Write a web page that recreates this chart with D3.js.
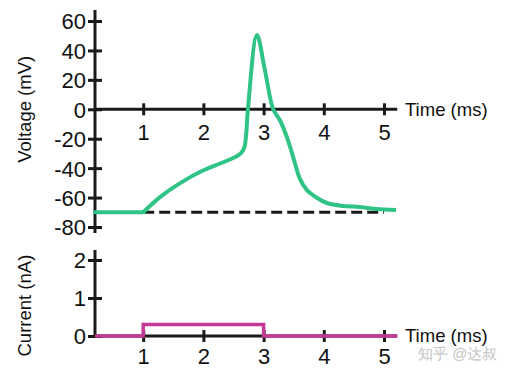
<!DOCTYPE html>
<html><head><meta charset="utf-8">
<script src="https://cdn.jsdelivr.net/npm/d3@7"></script>
<style>
html,body{margin:0;padding:0;background:#fff;}
text{font-family:"Liberation Sans",Arial,Helvetica,sans-serif;fill:#111;}
</style></head>
<body><svg id="c" width="512" height="380"></svg>
<script>
// ---- data ----
const timeTicks = [1, 2, 3, 4, 5];
const voltTicks = [60, 40, 20, 0, -20, -40, -60, -80];
const currTicks = [0, 1, 2];
const vTime = [0.2, 1.0, 1.3, 1.6, 1.95, 2.3, 2.5, 2.62, 2.68, 2.71, 2.74, 2.89, 3.02, 3.16, 3.27, 3.36, 3.44, 3.52, 3.60, 3.72, 3.89, 4.05, 4.32, 4.60, 4.88, 5.2];
const vVolt = [-70, -70, -59, -50.5, -42.5, -36.5, -33, -30, -26, -17, 0, 50.5, 27, 0, -7.3, -16, -25.6, -36.5, -47, -55, -60.3, -63.7, -65.7, -66.4, -67.8, -68.5];
const stimOn = 1;
const restTime = [1, 5];
const restVolt = [-70, -70];
const iTime = [0.2, 1, 1, 3, 3, 5.22];
const iCurr = [0, 0, 0.3, 0.3, 0, 0];
const xLabel = "Time (ms)";
const vLabel = "Voltage (mV)";
const iLabel = "Current (nA)";
const watermark = "知乎 @达叔";

const svg = d3.select("#c");
const x = d3.scaleLinear().domain([0, 5]).range([83, 384]);
const yV = d3.scaleLinear().domain([-80, 60]).range([227, 21]);
const yI = d3.scaleLinear().domain([0, 2]).range([336, 260]);
const axisColor = "#1a1a1a";
const green = "#2fc486";
const magenta = "#c43896";
const fmt = d => String(d);

function styleAxis(g, horiz) {
  g.select(".domain").remove();
  g.selectAll(".tick line").attr("stroke", axisColor).attr("stroke-width", 3);
  if (horiz) g.selectAll(".tick line").attr("y1", -6).attr("y2", 6);
  else g.selectAll(".tick line").attr("x1", -7).attr("x2", 7);
  g.selectAll(".tick text").attr("font-size", 22).attr("fill", "#111")
   .attr("font-family", '"Liberation Sans",Arial,sans-serif');
}

// ---------- top panel ----------
const gTop = svg.append("g");
gTop.append("line").attr("x1", 95).attr("x2", 95).attr("y1", 10).attr("y2", 233)
  .attr("stroke", axisColor).attr("stroke-width", 3);
gTop.append("line").attr("x1", 95).attr("x2", x(5.22)).attr("y1", yV(0)).attr("y2", yV(0))
  .attr("stroke", axisColor).attr("stroke-width", 3);
const yAxV = gTop.append("g").attr("transform", "translate(95,0)")
  .call(d3.axisLeft(yV).tickValues(voltTicks).tickSize(0).tickPadding(9).tickFormat(fmt));
styleAxis(yAxV, false);
yAxV.selectAll(".tick text").attr("dy", "0.36em");
const xAxV = gTop.append("g").attr("transform", `translate(0,${yV(0)})`)
  .call(d3.axisBottom(x).tickValues(timeTicks).tickSize(0).tickPadding(0).tickFormat(fmt));
styleAxis(xAxV, true);
xAxV.selectAll(".tick text").attr("y", 31).attr("dy", 0);
gTop.append("text").attr("x", 405).attr("y", yV(0)).attr("dy", "0.35em")
  .attr("font-size", 18.5).text(xLabel);
gTop.append("text").attr("transform", `translate(31,${yV(0)}) rotate(-90)`)
  .attr("text-anchor", "middle").attr("font-size", 18.5).text(vLabel);

gTop.append("path").datum(restTime.map((t, i) => [t, restVolt[i]]))
  .attr("d", d3.line().x(d => x(d[0])).y(d => yV(d[1])))
  .attr("fill", "none").attr("stroke", "#1a1a1a").attr("stroke-width", 3)
  .attr("stroke-dasharray", "11,5");
const vPts = vTime.map((t, i) => [t, vVolt[i]]);
const lineV = d3.line().x(d => x(d[0])).y(d => yV(d[1]));
gTop.append("path").datum(vPts.filter(d => d[0] <= stimOn))
  .attr("d", lineV)
  .attr("fill", "none").attr("stroke", green).attr("stroke-width", 4)
  .attr("stroke-linecap", "round");
gTop.append("path").datum(vPts.filter(d => d[0] >= stimOn))
  .attr("d", lineV.curve(d3.curveCatmullRom.alpha(0.5)))
  .attr("fill", "none").attr("stroke", green).attr("stroke-width", 4)
  .attr("stroke-linejoin", "round").attr("stroke-linecap", "butt");

// ---------- bottom panel ----------
const gBot = svg.append("g");
gBot.append("line").attr("x1", 95).attr("x2", 95).attr("y1", 250).attr("y2", 338)
  .attr("stroke", axisColor).attr("stroke-width", 3);
gBot.append("line").attr("x1", 95).attr("x2", x(5.22)).attr("y1", yI(0)).attr("y2", yI(0))
  .attr("stroke", axisColor).attr("stroke-width", 3);
const yAxI = gBot.append("g").attr("transform", "translate(95,0)")
  .call(d3.axisLeft(yI).tickValues(currTicks).tickSize(0).tickPadding(9).tickFormat(fmt));
styleAxis(yAxI, false);
yAxI.selectAll(".tick text").attr("dy", "0.36em");
const xAxI = gBot.append("g").attr("transform", `translate(0,${yI(0)})`)
  .call(d3.axisBottom(x).tickValues(timeTicks).tickSize(0).tickPadding(0).tickFormat(fmt));
styleAxis(xAxI, true);
xAxI.selectAll(".tick text").attr("y", 28).attr("dy", 0);
gBot.append("text").attr("x", 405).attr("y", yI(0)).attr("dy", "0.35em")
  .attr("font-size", 18.5).text(xLabel);
gBot.append("text").attr("transform", `translate(31,${yI(0.8)}) rotate(-90)`)
  .attr("text-anchor", "middle").attr("font-size", 18.5).text(iLabel);
gBot.append("path").datum(iTime.map((t, i) => [t, iCurr[i]]))
  .attr("d", d3.line().x(d => x(d[0])).y(d => yI(d[1])))
  .attr("fill", "none").attr("stroke", magenta).attr("stroke-width", 3.5)
  .attr("stroke-linejoin", "miter");

svg.append("text").attr("x", 418).attr("y", 359).attr("font-size", 15)
  .attr("font-family", '"Noto Sans CJK SC",sans-serif').style("fill", "#c4c4c4")
  .text(watermark);
</script></body></html>
